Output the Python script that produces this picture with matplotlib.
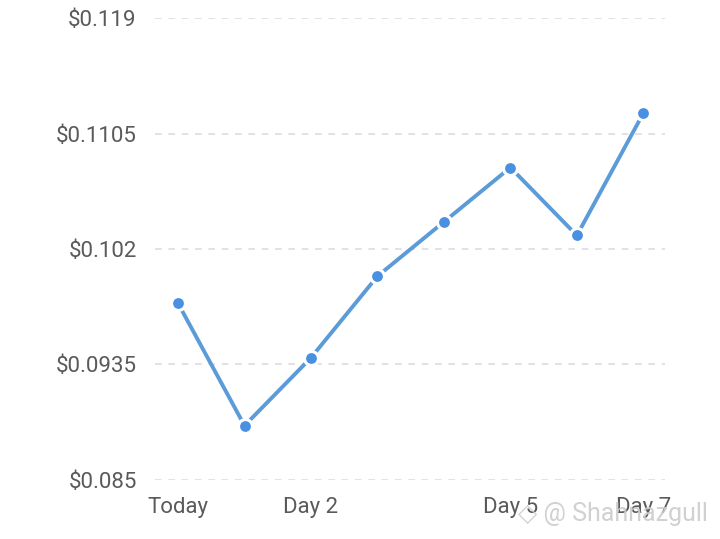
import matplotlib
matplotlib.use("Agg")
import matplotlib.pyplot as plt

# --- data ---
days = list(range(8))
prices = [0.0980, 0.0890, 0.0940, 0.1000, 0.1040, 0.1080, 0.1030, 0.1120]
yticks = [0.085, 0.0935, 0.102, 0.1105, 0.119]
ytick_labels = ["$0.085", "$0.0935", "$0.102", "$0.1105", "$0.119"]
xtick_pos = [0, 2, 5, 7]
xtick_labels = ["Today", "Day 2", "Day 5", "Day 7"]

plt.rcParams['font.family'] = ['Roboto', 'DejaVu Sans']

fig = plt.figure(figsize=(7.2, 5.39), dpi=100)
ax = fig.add_axes([0.215, 0.1095, 0.709, 0.857])

line_color = "#5b9bd8"
ax.plot(days, prices, color=line_color, lw=2.8, zorder=2, solid_capstyle="butt")
ax.plot(days, prices, ls="none", marker="o", ms=10, mfc="#4a90e2",
        mec="white", mew=2.2, zorder=3)

ax.set_xlim(-0.35, 7.33)
ax.set_ylim(0.085, 0.119)
ax.set_yticks(yticks)
ax.set_yticklabels(ytick_labels)
ax.set_xticks(xtick_pos)
ax.set_xticklabels(xtick_labels)

ax.tick_params(axis="both", length=0, labelsize=16, colors="#5a5a5a")
ax.tick_params(axis="y", pad=13)
ax.tick_params(axis="x", pad=12)

for s in ax.spines.values():
    s.set_visible(False)
ax.grid(axis="y", color="#dddddd", ls=(0, (4, 4)), lw=1.2, zorder=1)
ax.set_axisbelow(True)

# watermark
fig.text(0.72, 0.046, "\u25c7 @ Shahnazgull", fontsize=18, color="#cccccc",
         alpha=0.9, ha="left", va="center", zorder=5)

fig.savefig("out.png", dpi=100, facecolor="white")
